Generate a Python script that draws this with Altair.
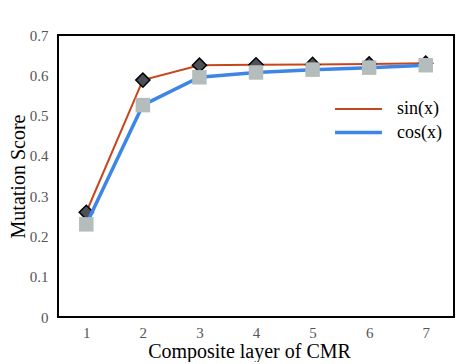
import altair as alt
import pandas as pd

layers = [1, 2, 3, 4, 5, 6, 7]
sin_vals = [0.26, 0.588, 0.625, 0.626, 0.627, 0.628, 0.630]
cos_vals = [0.23, 0.526, 0.595, 0.607, 0.614, 0.619, 0.625]
series_names = ["sin(x)", "cos(x)"]
y_ticks = [0, 0.1, 0.2, 0.3, 0.4, 0.5, 0.6, 0.7]

df = pd.DataFrame({
    "layer": layers * 2,
    "score": sin_vals + cos_vals,
    "series": [series_names[0]] * len(layers) + [series_names[1]] * len(layers),
})

FONT = "Liberation Serif"

x_enc = alt.X("layer:Q", scale=alt.Scale(domain=[0.5, 7.5], nice=False),
              axis=alt.Axis(values=layers, title="Composite layer of CMR", format="d",
                            titleX=191, titleAlign="center"))
y_enc = alt.Y("score:Q", scale=alt.Scale(domain=[0, 0.7], nice=False),
              axis=alt.Axis(values=y_ticks, title="Mutation Score", format=".1~f"))

color_scale = alt.Scale(domain=series_names, range=["#c8461c", "#3d86e8"])
width_scale = alt.Scale(domain=series_names, range=[2, 3.5])

base = alt.Chart(df)

def line_layer(name):
    return base.transform_filter(alt.datum.series == name).mark_line().encode(
        x=x_enc, y=y_enc,
        color=alt.Color("series:N", scale=color_scale, legend=alt.Legend(title=None)),
        strokeWidth=alt.StrokeWidth("series:N", scale=width_scale, legend=alt.Legend(title=None)),
    )

sin_line = line_layer("sin(x)")
cos_line = line_layer("cos(x)")
sin_pts = base.transform_filter(alt.datum.series == "sin(x)").mark_point(
    shape="diamond", filled=True, fill="#4b5157", stroke="#000000", strokeWidth=1.5,
    size=200, opacity=1,
).encode(x=x_enc, y=y_enc)
cos_pts = base.transform_filter(alt.datum.series == "cos(x)").mark_point(
    shape="square", filled=True, fill="#b5bcbc", strokeWidth=0, size=210, opacity=1,
).encode(x=x_enc, y=y_enc)

chart = alt.layer(sin_line, sin_pts, cos_line, cos_pts).properties(
    width=396, height=282,
    autosize=alt.AutoSizeParams(type="none"),
    padding={"left": 50, "top": 27, "right": 12, "bottom": 45},
).configure_view(
    stroke="#000000", strokeWidth=2,
).configure_axis(
    grid=False, ticks=False, domain=False,
    labelFont=FONT, labelFontSize=15, labelColor="#555555",
    titleFont=FONT, titleFontSize=20, titleColor="#000000", titleFontWeight="normal",
).configure_axisY(
    labelPadding=10, titlePadding=1,
).configure_axisX(
    labelPadding=8, titlePadding=1,
).configure_legend(
    orient="none", legendX=287, legendY=61, padding=0,
    labelFont=FONT, labelFontSize=18, labelColor="#000000",
    symbolType="M-2,0H2", symbolSize=550, labelOffset=25, rowPadding=1,
)

chart.save("out.html", embed_options={"renderer": "svg", "actions": False})
